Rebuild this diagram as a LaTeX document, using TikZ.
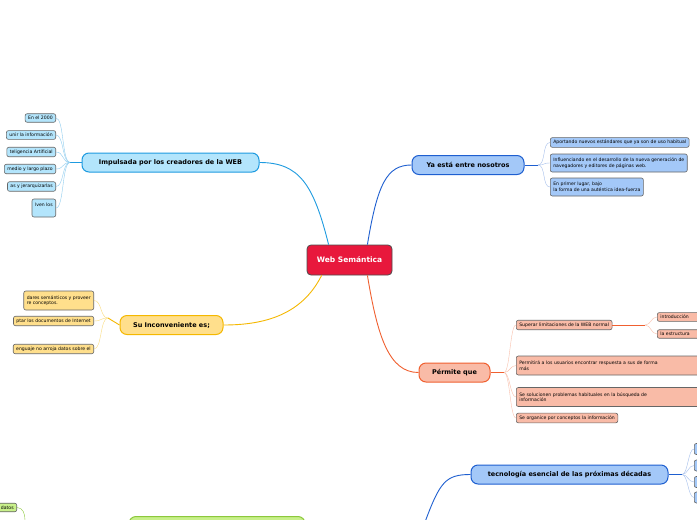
\documentclass[tikz,border=0pt]{standalone}
\usepackage{fontspec}
\setmainfont{DejaVu Sans}
\begin{document}
\begin{tikzpicture}[x=1pt,y=-1pt,
 main/.style={rounded corners=7pt,line width=1pt,minimum height=19pt,inner xsep=8pt,font=\fontsize{6.5}{8}\selectfont\bfseries},
 leaf/.style={rounded corners=2pt,draw=gray!80!black,line width=0.6pt,inner xsep=3pt,inner ysep=2.5pt,font=\fontsize{4.6}{5.6}\selectfont,align=left},
 br/.style={line width=0.9pt},
 tw/.style={line width=0.4pt}]
\clip (0,0) rectangle (697,520);
\fill[white] (0,0) rectangle (697,520);
\definecolor{lb}{HTML}{B3E5FC}\definecolor{bb}{HTML}{1E9BE0}
\definecolor{yb}{HTML}{FFDF8C}\definecolor{yo}{HTML}{F5B800}
\definecolor{pb}{HTML}{A3C8F8}\definecolor{db}{HTML}{1E5FD0}
\definecolor{sb}{HTML}{F9BBA7}\definecolor{so}{HTML}{F06030}
\definecolor{gb}{HTML}{C8F08A}\definecolor{go}{HTML}{8CC83C}
% centre
\node[rounded corners=4pt,fill={rgb,255:red,232;green,24;blue,60},draw=black!70,line width=0.8pt,minimum width=85pt,minimum height=30pt,text=white,font=\fontsize{7.5}{9}\selectfont\bfseries] (c) at (349.5,260) {Web Semántica};
% main nodes
\node[main,fill=lb,draw=bb,minimum width=177pt] (imp) at (170.5,162.5) {Impulsada por los creadores de la WEB};
\node[main,fill=yb,draw=yo,minimum width=103pt] (su) at (171.5,325) {Su Inconveniente es;};
\node[main,fill=pb,draw=db,minimum width=112pt] (ya) at (468,165) {Ya está entre nosotros};
\node[main,fill=sb,draw=so,minimum width=71pt] (pe) at (454.5,372.5) {Pérmite que};
\node[main,fill=pb,draw=db,minimum width=197pt] (te) at (569.5,474.5) {tecnología esencial de las próximas décadas};
\node[main,fill=gb,draw=go,minimum width=176pt] (gr) at (217,526) {};
\coordinate (tb) at (425,522);
% main branches
\draw[br,bb] (c.north west)++(22,0) .. controls +(-15,-60) and +(40,0) .. (imp.east);
\draw[br,db] (c.north east)++(-25,0) .. controls +(10,-60) and +(-25,0) .. (ya.west);
\draw[br,yo] (c.south west)++(15,0) .. controls +(-20,40) and +(40,0) .. (su.east);
\draw[br,so] (c.south east)++(-25,0) .. controls +(10,60) and +(-30,0) .. (pe.west);
\draw[br,db] (tb) .. controls +(15,-40) and +(-25,0) .. (te.west);
% Impulsada leaves
\coordinate (ij) at (70,162.5);
\draw[br,bb] (imp.west) -- (ij);
\foreach \n/\y/\t in {a/118/En el 2000,b/135/unir la información,c/152/teligencia Artificial,d/169/medio y largo plazo,e/186.5/as y jerarquizarlas}{
 \node[leaf,fill=lb,anchor=east] (i\n) at (56,\y) {\t};
 \draw[tw,bb!50] (ij) .. controls +(-8,0) and +(8,0) .. (i\n.east);}
\node[leaf,fill=lb,anchor=east,minimum height=18pt] (if) at (56,208) {lven los\\ \strut};
\draw[tw,bb!50] (ij) .. controls +(-8,0) and +(8,0) .. (if.east);
% Su leaves
\coordinate (sj) at (108,318);
\draw[br,yo] (su.west) -- (sj);
\node[leaf,fill=yb,anchor=east,minimum height=19pt] (sa) at (94,300.5) {dares semánticos y proveer\\re conceptos.};
\node[leaf,fill=yb,anchor=east] (sb2) at (94,321) {ptar los documentos de Internet};
\node[leaf,fill=yb,anchor=east] (sc) at (94,349) {enguaje no arroja datos sobre el};
\foreach \n in {sa,sb2,sc}{\draw[tw,yo!50] (sj) .. controls +(-8,0) and +(8,0) .. (\n.east);}
% Ya leaves
\coordinate (yj) at (538,165);
\draw[br,db] (ya.east) -- (yj);
\node[leaf,fill=pb,anchor=west] (ya1) at (550,142.5) {Aportando nuevos estándares que ya son de uso habitual};
\node[leaf,fill=pb,anchor=west,minimum height=18pt] (ya2) at (550,163) {Influenciando en el desarrollo de la nueva generación de\\navegadores y editores de páginas web.};
\node[leaf,fill=pb,anchor=west,minimum height=18pt] (ya3) at (550,187) {En primer lugar, bajo\\la forma de una auténtica idea-fuerza};
\foreach \n in {ya1,ya2,ya3}{\draw[tw,db!40] (yj) .. controls +(8,0) and +(-8,0) .. (\n.west);}
% Permite leaves
\coordinate (pj) at (504,372.5);
\draw[br,so] (pe.east) -- (pj);
\node[leaf,fill=sb,anchor=west] (p1) at (516,325) {Superar limitaciones de la WEB normal};
\node[leaf,fill=sb,anchor=west,minimum height=19pt,text width=200pt] (p2) at (516,365.5) {Permitirá a los usuarios encontrar respuesta a sus de forma\\más};
\node[leaf,fill=sb,anchor=west,minimum height=19pt,text width=200pt] (p3) at (516,397) {Se solucionen problemas habituales en la búsqueda de\\información};
\node[leaf,fill=sb,anchor=west] (p4) at (516,418) {Se organice por conceptos la información};
\foreach \n in {p1,p2,p3,p4}{\draw[tw,so!40] (pj) .. controls +(6,0) and +(-6,0) .. (\n.west);}
\coordinate (qj) at (645,325);
\draw[br,so] (p1.east) -- (qj);
\node[leaf,fill=sb,anchor=west,text width=60pt] (q1) at (657,317) {introducción};
\node[leaf,fill=sb,anchor=west,text width=60pt] (q2) at (657,334) {la estructura};
\foreach \n in {q1,q2}{\draw[tw,so!40] (qj) .. controls +(6,0) and +(-6,0) .. (\n.west);}
% tech leaves
\coordinate (tj) at (682,474.5);
\draw[br,db] (te.east) -- (tj);
\foreach \n/\y in {1/449,2/465.5,3/482,4/497.5}{
 \node[leaf,fill=pb,anchor=west,minimum height=11pt,minimum width=20pt] (t\n) at (694,\y) {};
 \draw[tw,db!40] (tj) .. controls +(6,0) and +(-6,0) .. (t\n.west);}
% green
\node[leaf,fill=gb,anchor=east] (g1) at (17,507.5) {datos};
\coordinate (gj) at (25,520);
\draw[tw,go] (g1.east) .. controls +(6,0) and +(0,-6) .. (gj);
\draw[line width=1pt,gray!25] (45,520) -- (100,520);
\end{tikzpicture}
\end{document}
